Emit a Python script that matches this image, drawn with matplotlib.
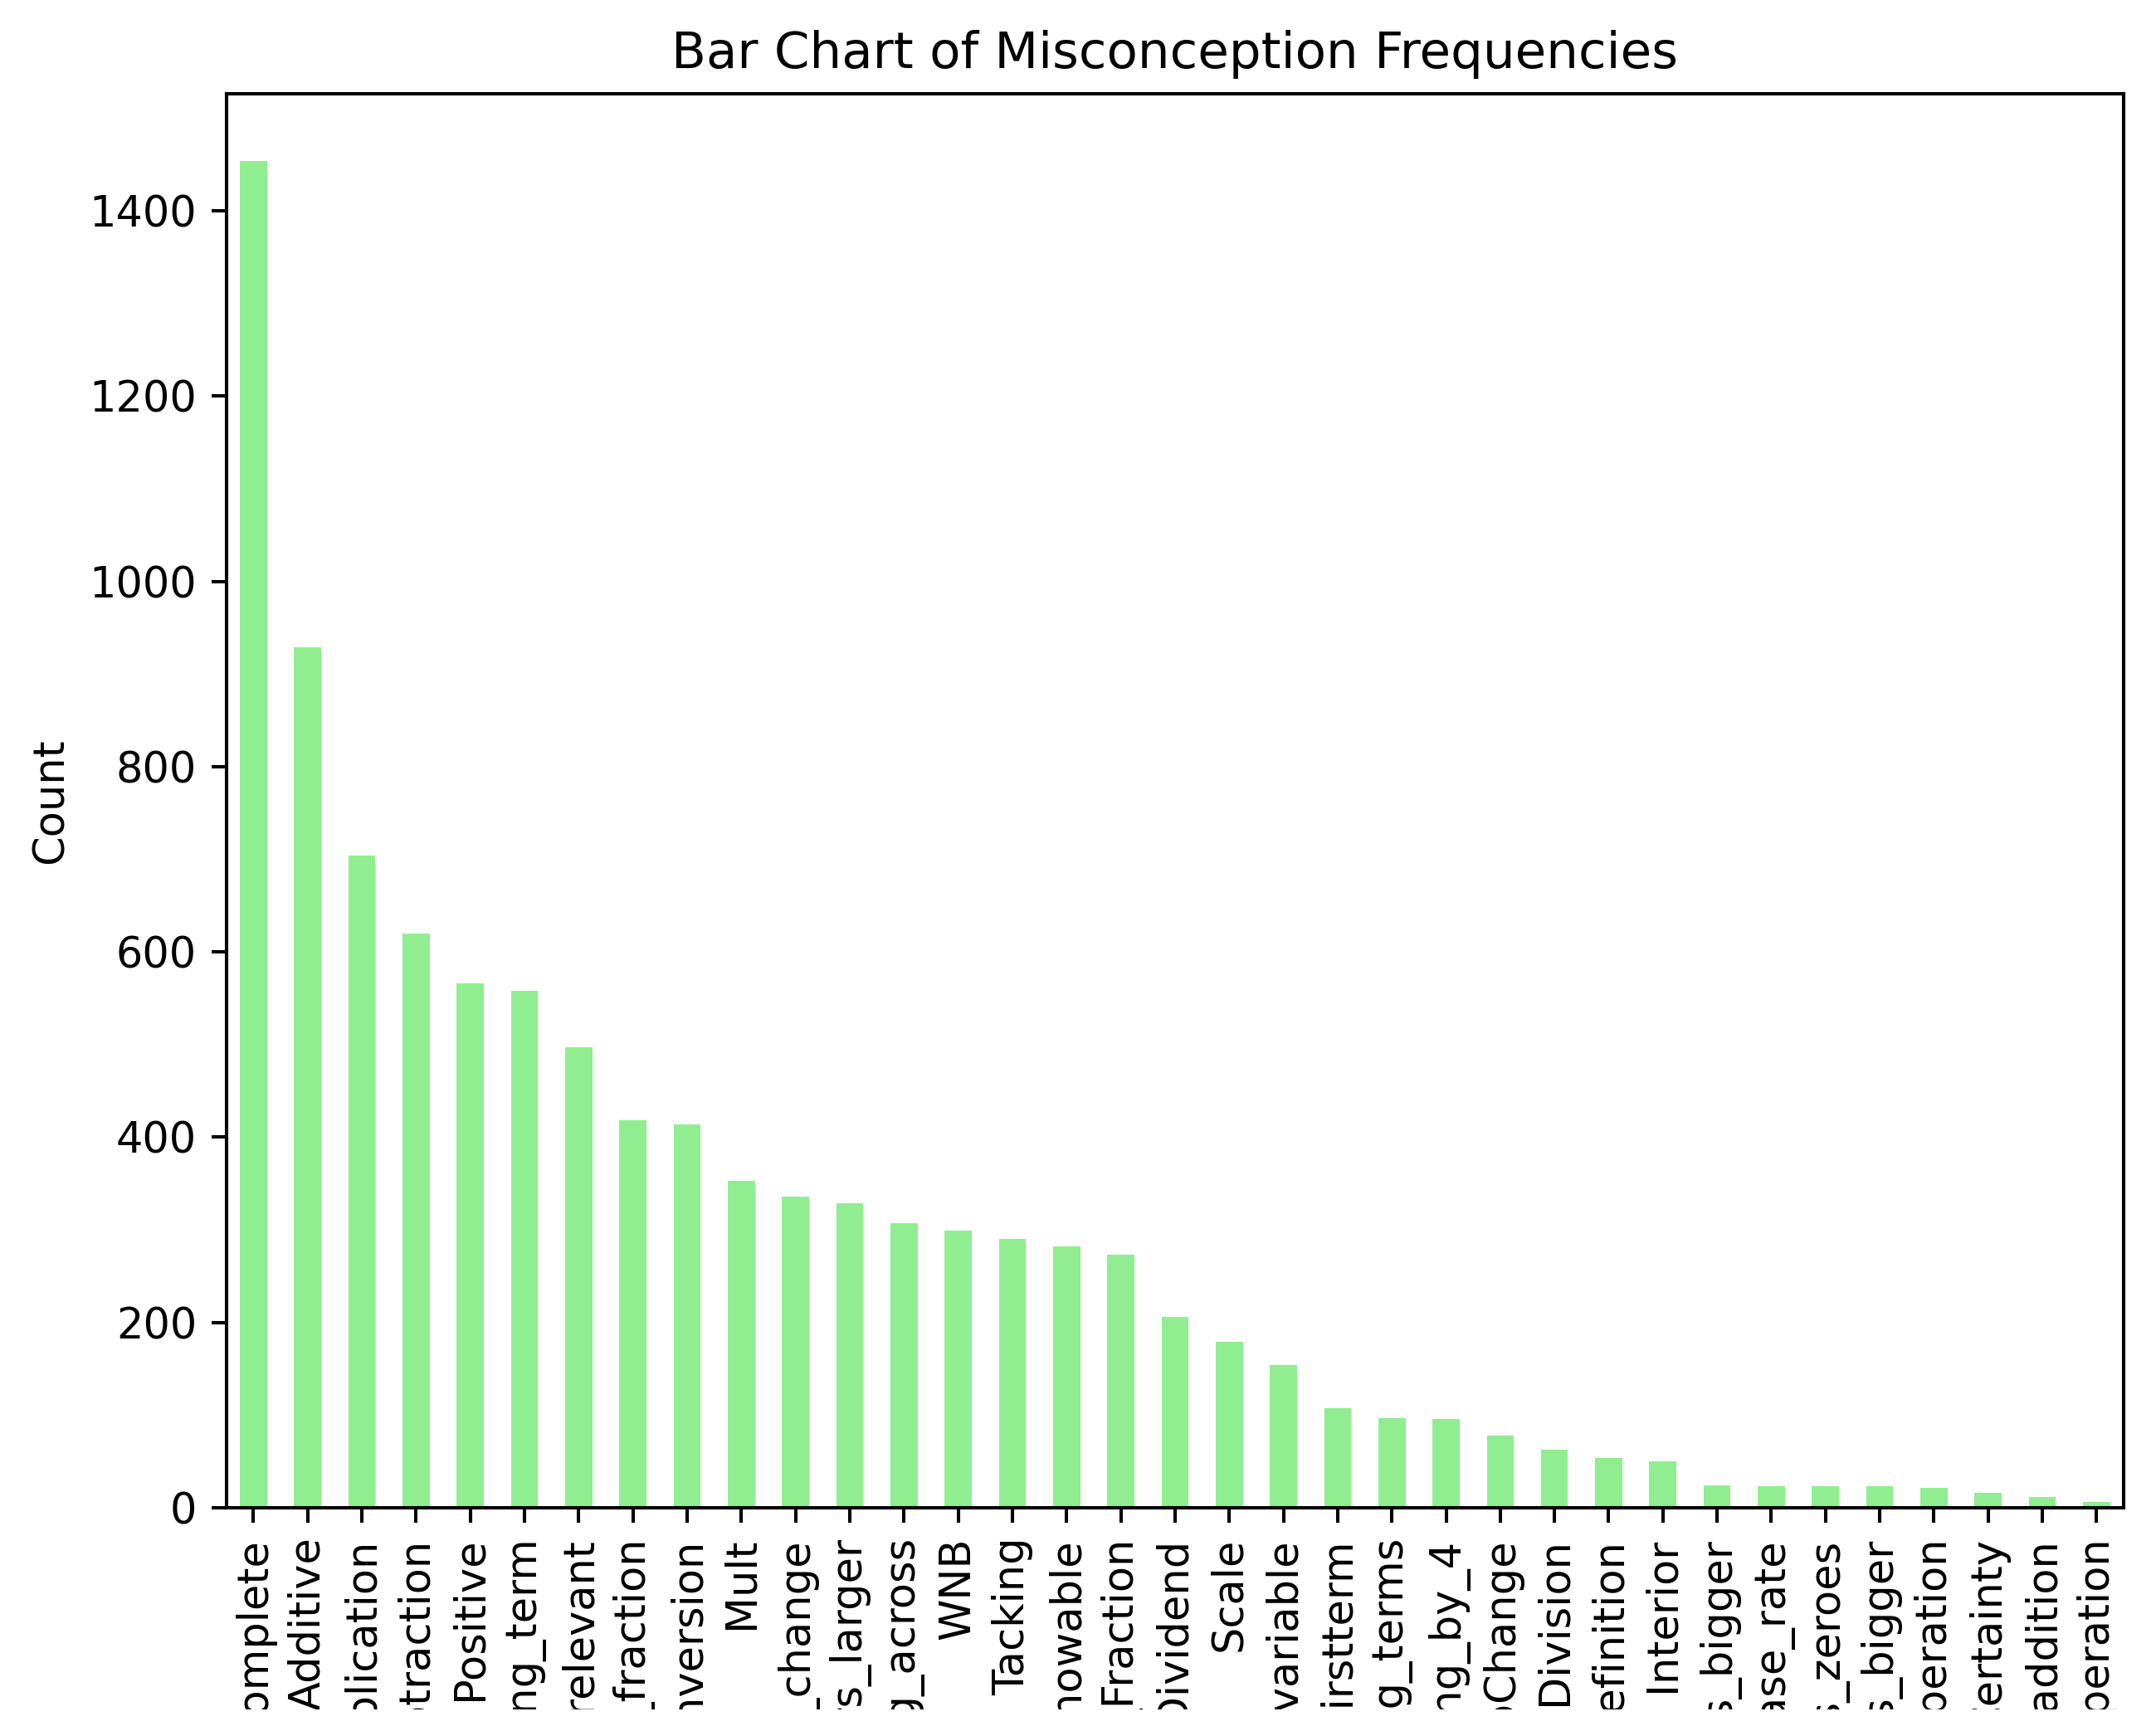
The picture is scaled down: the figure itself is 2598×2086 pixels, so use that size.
import matplotlib
matplotlib.use("Agg")
import matplotlib.pyplot as plt
from matplotlib.patches import Rectangle
import numpy as np

# misconception labels (long names get clipped at the bottom edge, as in the reference)
misconceptions = [
    "Incomplete", "Additive", "Duplication", "Subtraction", "Positive",
    "Wrong_term", "Irrelevant", "Wrong_fraction", "Inversion", "Mult",
    "Denominator-only_change", "Whole_numbers_larger", "Adding_across", "WNB",
    "Tacking", "Unknowable", "Wrong_Fraction", "SwapDividend", "Scale",
    "Not_variable", "Firstterm", "Adding_terms", "Multiplying_by_4",
    "FlipChange", "Division", "Definition", "Interior", "Longer_is_bigger",
    "Base_rate", "Ignores_zeroes", "Shorter_is_bigger", "Wrong_Operation",
    "Certainty", "Incorrect_equivalent_fraction_addition", "Wrong_operation",
]
counts = [
    1454, 929, 704, 620, 566,
    558, 497, 418, 414, 353,
    336, 329, 307, 299,
    290, 282, 273, 206, 179,
    154, 107, 97, 96,
    78, 63, 54, 50, 24,
    23, 23, 23, 21,
    16, 12, 6,
]

DPI = 367
fig = plt.figure(figsize=(2598 / DPI, 2086 / DPI), dpi=DPI)
ax = fig.add_axes([0.105, 0.129, 0.880, 0.817])

x = np.arange(len(misconceptions))
ax.bar(x, counts, width=0.5, color="lightgreen")
ax.set_xlim(-0.5, len(x) - 0.5)
ax.set_xticks(x)
ax.set_xticklabels(misconceptions, rotation=90)
ax.set_ylabel("Count")
ax.set_title("Bar Chart of Misconception Frequencies")

# the source image was cropped and padded with a thin white strip at the bottom
fig.add_artist(Rectangle((0, 0), 1, 26 / 2086, transform=fig.transFigure,
                         facecolor="white", edgecolor="none", zorder=5))

fig.savefig("out.png", dpi=DPI)
